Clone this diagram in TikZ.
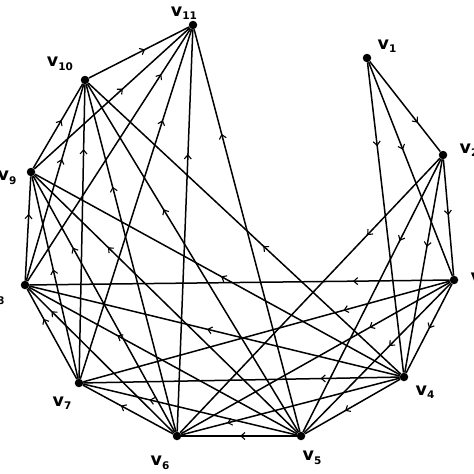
\documentclass[tikz,border=0pt]{standalone}
\usepackage{fontspec}
\setmainfont{DejaVu Sans}
\usetikzlibrary{arrows.meta,decorations.markings}
\newcommand\vlab[1]{v\raisebox{-3.5pt}{\fontsize{10.5}{11}\selectfont\bfseries #1}}
\begin{document}
\begin{tikzpicture}[x=1pt,y=-1pt,
  vtx/.style={circle,fill=black,inner sep=0pt,minimum size=8.5pt},
  lbl/.style={inner sep=0pt,font=\fontsize{17.5}{20}\selectfont\bfseries},
  darc/.style={draw,line width=1.5pt,postaction={decorate},
    decoration={markings,mark=at position #1 with {\arrow[line width=1.1pt]{Straight Barb[length=4pt,width=7pt]}}}}]
\useasboundingbox (0,0) rectangle (474,474);
\node[vtx] (v1) at (367,58) {};
\node[vtx] (v2) at (443,155) {};
\node[vtx] (v3) at (454,280) {};
\node[vtx] (v4) at (404,377) {};
\node[vtx] (v5) at (301,436) {};
\node[vtx] (v6) at (177,436) {};
\node[vtx] (v7) at (79,383) {};
\node[vtx] (v8) at (25,285) {};
\node[vtx] (v9) at (31,172) {};
\node[vtx] (v10) at (85,80) {};
\node[vtx] (v11) at (193,25) {};
\node[lbl] (l1) at (387,46) {\vlab{1}};
\node[lbl] (l2) at (469,150) {\vlab{2}};
\node[lbl] (l3) at (480,280) {\vlab{3}};
\node[lbl] (l4) at (425,392) {\vlab{4}};
\node[lbl] (l5) at (312,458) {\vlab{5}};
\node[lbl] (l6) at (160,463) {\vlab{6}};
\node[lbl] (l7) at (62,403) {\vlab{7}};
\node[lbl] (l8) at (-5,298) {\vlab{8}};
\node[lbl] (l9) at (7,178) {\vlab{9}};
\node[lbl] (l10) at (60,64) {\vlab{10}};
\node[lbl] (l11) at (184,13) {\vlab{11}};
\foreach \a/\b/\p in {1/2/0.68,1/3/0.41,1/4/0.27,
  2/3/0.48,2/4/0.41,2/5/0.30,2/6/0.28,
  3/4/0.5,3/5/0.42,3/6/0.30,3/7/0.29,3/8/0.23,
  4/5/0.58,4/6/0.79,4/7/0.25,4/8/0.52,4/9/0.49,4/10/0.44,
  5/6/0.49,5/7/0.69,5/8/0.67,5/9/0.72,5/10/0.64,5/11/0.74,
  6/7/0.58,6/8/0.84,6/9/0.72,6/10/0.705,6/11/0.69,
  7/8/0.67,7/9/0.54,7/10/0.78,7/11/0.74,
  8/9/0.64,8/10/0.62,8/11/0.82,
  9/10/0.57,9/11/0.57,
  10/11/0.56}
  \draw[darc=\p] (v\a) -- (v\b);
\end{tikzpicture}
\end{document}
